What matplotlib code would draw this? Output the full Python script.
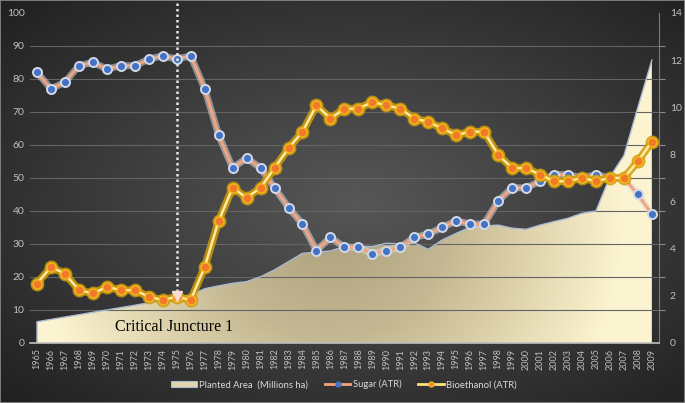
import numpy as np
import matplotlib
matplotlib.use("Agg")
import matplotlib.pyplot as plt
from matplotlib.lines import Line2D
from matplotlib.patches import Patch, Rectangle
from matplotlib.colors import LinearSegmentedColormap

plt.rcParams['font.family'] = ['Liberation Sans Narrow', 'Lato', 'DejaVu Sans']

years = list(range(1965, 2010))

sugar = [82, 77, 79, 84, 85, 83, 84, 84, 86, 87, 86, 87, 77, 63, 53, 56, 53, 47, 41, 36,
         28, 32, 29, 29, 27, 28, 29, 32, 33, 35, 37, 36, 36, 43, 47, 47, 49, 51, 51, 50,
         51, 50, 50, 45, 39]

bioethanol = [18, 23, 21, 16, 15, 17, 16, 16, 14, 13, 14, 13, 23, 37, 47, 44, 47, 53, 59, 64,
              72, 68, 71, 71, 73, 72, 71, 68, 67, 65, 63, 64, 64, 57, 53, 53, 51, 49, 49, 50,
              49, 50, 50, 55, 61]

# planted area, millions ha (right axis)
area = [0.9, 1.0, 1.1, 1.2, 1.3, 1.4, 1.5, 1.6, 1.7, 1.8, 1.95, 2.04, 2.3, 2.42, 2.53,
        2.6, 2.81, 3.1, 3.45, 3.8, 3.85, 3.9, 4.1, 4.1, 4.09, 4.23, 4.2, 4.25, 3.97, 4.37,
        4.65, 4.91, 4.96, 5.0, 4.87, 4.82, 5.0, 5.15, 5.29, 5.5, 5.6, 7.05, 7.95, 10.0, 12.0]

juncture_year = 1975
juncture_label = "Critical Juncture 1"

fig = plt.figure(figsize=(6.85, 4.03), dpi=100)

# dark radial background
bg = fig.add_axes([0, 0, 1, 1], zorder=-10)
gx, gy = np.meshgrid(np.linspace(0, 1, 300), np.linspace(0, 1, 200))
r = np.sqrt(((gx - 0.52) / 0.75) ** 2 + ((gy - 0.5) / 0.75) ** 2)
bg_cmap = LinearSegmentedColormap.from_list("bg", ["#575757", "#3b3b3b", "#1e1e1e"])
bg.imshow(np.clip(r, 0, 1), cmap=bg_cmap, vmin=0, vmax=1, aspect='auto',
          extent=[0, 1, 0, 1], origin='lower')
bg.set_axis_off()
fig.add_artist(Rectangle((0, 0), 1, 1, transform=fig.transFigure, fill=False,
                         edgecolor='#8c8c8c', lw=1.2))

ax = fig.add_axes([0.0438, 0.149, 0.918, 0.819])
ax2 = ax.twinx()
ax.set_zorder(ax2.get_zorder() + 1)
ax.patch.set_visible(False)
ax2.patch.set_visible(False)

# planted area with gradient fill
poly = ax2.fill_between(years, 0, area, facecolor='none', edgecolor='none')
ix, iy = np.meshgrid(np.linspace(1964.5, 2009.5, 400), np.linspace(0, 14, 300))
t = np.sqrt(((ix - 1986) / 21) ** 2 + ((iy - 5) / 12) ** 2)
area_cmap = LinearSegmentedColormap.from_list(
    "area", [(0, "#aca07e"), (0.4, "#c4b893"), (0.7, "#e0d5ae"), (1, "#fcf4d0")])
img = ax2.imshow(np.clip(t, 0, 1), cmap=area_cmap, vmin=0, vmax=1, aspect='auto',
                 extent=[1964.5, 2009.5, 0, 14], origin='lower', zorder=1)
img.set_clip_path(poly.get_paths()[0], ax2.transData)
ax2.plot([years[0]] + years, [0] + area, color='#a9b9d4', lw=1, zorder=2)

ax2.set_xlim(1964.5, 2009.5)
ax2.set_ylim(0, 14)
ax2.set_yticks(range(0, 15, 2))
ax2.set_yticks(np.arange(0, 14.01, 1.4), minor=True)
ax2.tick_params(axis='y', which='major', length=0, labelsize=7.5, colors='#bfbfbf', pad=8)
ax2.tick_params(axis='y', which='minor', length=4, color='#8a8a8a', width=0.8)
ax2.grid(axis='y', which='minor', color='#646464', lw=0.8, zorder=0)
for s in ['top', 'left', 'bottom']:
    ax2.spines[s].set_visible(False)
ax2.spines['right'].set_color('#7a7a7a')

# lines
ax.plot(years, sugar, color='#d3d9e6', lw=5, alpha=0.55, zorder=3, solid_capstyle='round')
ax.plot(years, sugar, color='#f4a47c', lw=2.2, zorder=4, marker='o', ms=6.5,
        mfc='#4472c4', mec='#d3d9e6', mew=1.4)
ax.plot(years, bioethanol, color='#cf9c0c', lw=5.5, alpha=0.85, zorder=5,
        marker='o', ms=10, mfc='#cf9c0c', mec='none')
ax.plot(years, bioethanol, color='#ffeaa0', lw=1.8, zorder=6, marker='o', ms=6.5,
        mfc='#f07a2a', mec='#f5b820', mew=1)

# critical juncture marker
ax.plot([juncture_year, juncture_year], [103, 15.5], ls=(0, (1, 1.2)), color='#ebe3de',
        lw=1.8, clip_on=False, zorder=7)
ax.plot([juncture_year], [14.2], marker='v', ms=7, color='#f6dcd4', zorder=8, clip_on=False)
ax.text(1970.55, 4.9, juncture_label, family='Liberation Serif', fontsize=11.5,
        color='black', ha='left', va='center', zorder=9)

ax.set_xlim(1964.5, 2009.5)
ax.set_ylim(0, 100)
ax.set_yticks(range(0, 101, 10))
ax.set_xticks(years)
ax.set_xticklabels([str(y) for y in years], rotation=90)
ax.tick_params(axis='y', length=0, labelsize=7.5, colors='#bfbfbf', pad=4)
ax.tick_params(axis='x', length=0, labelsize=6.5, colors='#bfbfbf', pad=4)
for s in ['top', 'left', 'right']:
    ax.spines[s].set_visible(False)
ax.spines['bottom'].set_color('#bfbfbf')
ax.spines['bottom'].set_linewidth(1.2)

handles = [
    Patch(facecolor='#e0d5ad', edgecolor='#a9b9d4', lw=0.8),
    Line2D([0], [0], color='#f4a47c', lw=2, marker='o', ms=3.5, mfc='#4472c4', mec='#4472c4'),
    Line2D([0], [0], color='#ffe27a', lw=2, marker='o', ms=3.5, mfc='#f07a2a', mec='#f5b820'),
]
labels = ['Planted Area  (Millions ha)', 'Sugar (ATR)', 'Bioethanol (ATR)']
leg = fig.legend(handles, labels, loc='center', bbox_to_anchor=(0.502, 0.046), ncol=3,
                 frameon=False, fontsize=6.8, handlelength=2.7, handleheight=0.7,
                 columnspacing=1.8, handletextpad=0.25)
for txt in leg.get_texts():
    txt.set_color('#d9d9d9')

fig.savefig('out.png', dpi=100)
